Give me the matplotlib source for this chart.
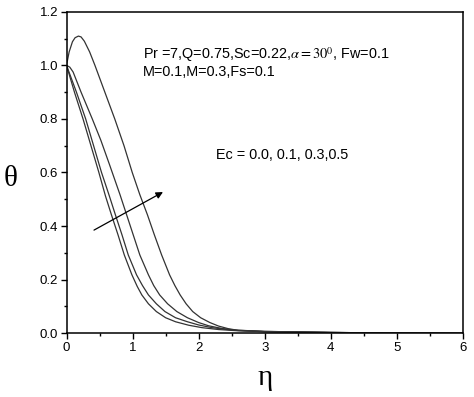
import matplotlib
matplotlib.use("Agg")
import matplotlib.pyplot as plt
from matplotlib.ticker import MultipleLocator, FormatStrFormatter

plt.rcParams['font.family'] = ['Liberation Sans', 'DejaVu Sans']
plt.rcParams['mathtext.fontset'] = 'stix'

eta_ec00 = [0, 0.12, 0.25, 0.37, 0.49, 0.59, 0.68, 0.78, 0.875, 0.99, 1.07, 1.14, 1.24,
            1.36, 1.5, 1.65, 1.85, 2.05, 2.3, 2.55, 3.0, 4.0, 5.0, 6.0]
theta_ec00 = [1.0, 0.9, 0.8, 0.7, 0.6, 0.512, 0.442, 0.367, 0.292, 0.218, 0.175, 0.143,
              0.11, 0.081, 0.058, 0.043, 0.03, 0.021, 0.014, 0.010, 0.006, 0.003,
              0.001, 0.0]

eta_ec01 = [0, 0.15, 0.29, 0.41, 0.53, 0.645, 0.74, 0.84, 0.935, 1.06, 1.15, 1.24, 1.36,
            1.49, 1.65, 1.83, 2.0, 2.2, 2.4, 2.6, 3.0, 4.0, 5.0, 6.0]
theta_ec01 = [1.0, 0.9, 0.8, 0.7, 0.6, 0.515, 0.442, 0.367, 0.292, 0.218, 0.178, 0.143,
              0.11, 0.081, 0.058, 0.043, 0.031, 0.021, 0.015, 0.010, 0.006, 0.003,
              0.001, 0.0]

eta_ec03 = [0, 0.05, 0.1, 0.22, 0.39, 0.52, 0.65, 0.81, 0.91, 1.01, 1.11, 1.24, 1.32,
            1.41, 1.53, 1.67, 1.83, 2.0, 2.15, 2.35, 2.55, 3.0, 4.0, 5.0, 6.0]
theta_ec03 = [1.0, 0.993, 0.975, 0.9, 0.8, 0.72, 0.63, 0.517, 0.442, 0.367, 0.292, 0.218,
              0.178, 0.143, 0.11, 0.081, 0.058, 0.04, 0.028, 0.018, 0.012, 0.007,
              0.003, 0.001, 0.0]

eta_ec05 = [0, 0.04, 0.09, 0.13, 0.18, 0.22, 0.27, 0.35, 0.43, 0.58, 0.73, 0.87, 0.995,
            1.11, 1.225, 1.33, 1.44, 1.56, 1.64, 1.72, 1.81, 1.91, 2.03, 2.17, 2.3,
            2.45, 2.6, 3.0, 4.0, 5.0, 6.0]
theta_ec05 = [1.0, 1.05, 1.088, 1.103, 1.109, 1.106, 1.09, 1.05, 1.0, 0.9, 0.8, 0.7, 0.6,
              0.517, 0.442, 0.367, 0.292, 0.218, 0.178, 0.143, 0.11, 0.081, 0.058,
              0.04, 0.027, 0.017, 0.011, 0.007, 0.003, 0.001, 0.0]

fig = plt.figure(figsize=(4.74, 3.97), dpi=100)
ax = fig.add_axes([0.1403, 0.1605, 0.8365, 0.81])

lc = '#333333'
for x, y in ((eta_ec00, theta_ec00), (eta_ec01, theta_ec01),
             (eta_ec03, theta_ec03), (eta_ec05, theta_ec05)):
    ax.plot(x, y, color=lc, lw=0.9, solid_joinstyle='round')

ax.set_xlim(0, 6)
ax.set_ylim(0, 1.2)
ax.xaxis.set_major_locator(MultipleLocator(1))
ax.xaxis.set_minor_locator(MultipleLocator(0.5))
ax.yaxis.set_major_locator(MultipleLocator(0.2))
ax.yaxis.set_minor_locator(MultipleLocator(0.1))
ax.yaxis.set_major_formatter(FormatStrFormatter('%.1f'))
ax.tick_params(which='major', direction='out', length=4, width=1, labelsize=9.5, pad=2)
ax.tick_params(which='minor', direction='out', length=2.5, width=1)
for s in ax.spines.values():
    s.set_linewidth(1.1)

ax.set_xlabel('η', fontsize=21, family=['Liberation Serif', 'DejaVu Serif'], labelpad=8)
ax.set_ylabel('θ', fontsize=21, family=['Liberation Serif', 'DejaVu Serif'], rotation=0)
ax.yaxis.set_label_coords(-0.14, 0.44)

ax.annotate('', xy=(1.46, 0.527), xytext=(0.416, 0.385),
            arrowprops=dict(arrowstyle='-|>', color='black', lw=0.9,
                            mutation_scale=10, shrinkA=0, shrinkB=0))

ax.text(1.16, 1.04, r'Pr =7,Q=0.75,Sc=0.22,$\alpha=30^0$, Fw=0.1', fontsize=10.4,
        va='center', ha='left')
ax.text(1.16, 0.975, 'M=0.1,M=0.3,Fs=0.1', fontsize=10.4, va='center', ha='left')
ax.text(2.26, 0.665, 'Ec = 0.0, 0.1, 0.3,0.5', fontsize=10.4, va='center', ha='left')

fig.savefig('out.png', dpi=100)
